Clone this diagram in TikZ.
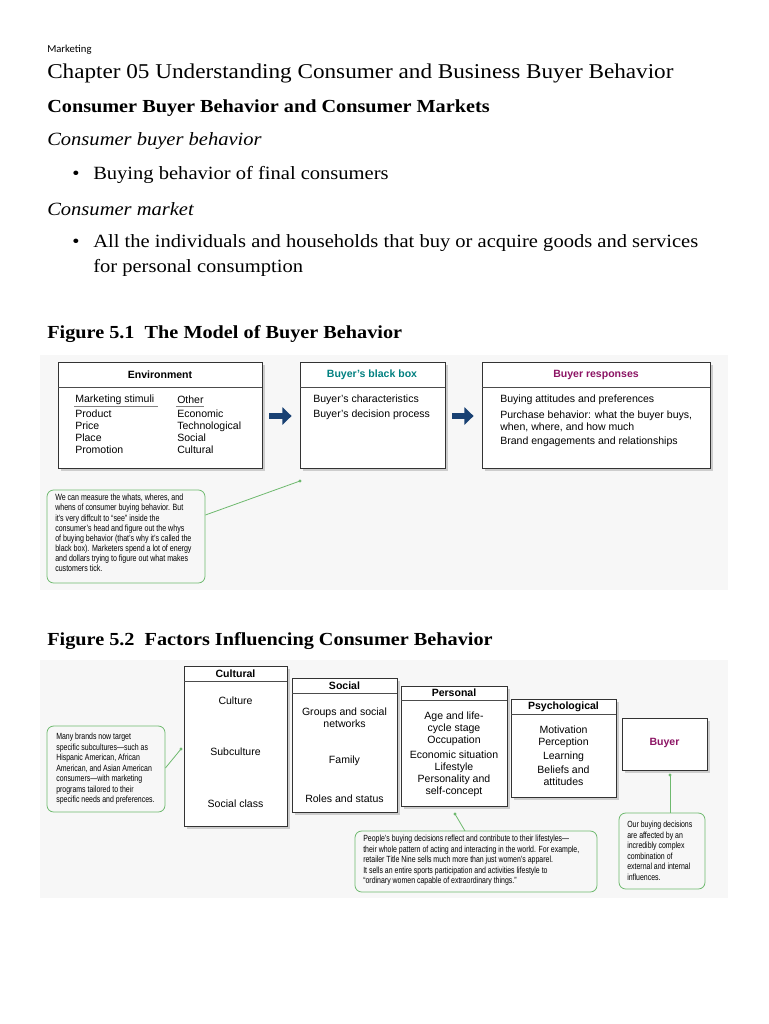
\documentclass[tikz,border=0pt]{standalone}
\usepackage{fontspec}
\setmainfont[FakeStretch=1.1]{Liberation Serif}
\newfontfamily\fig{Liberation Sans}
\newfontfamily\narrow[FakeStretch=0.78]{Liberation Sans}
\newfontfamily\carl{Carlito}
\usetikzlibrary{shadows,fit,arrows.meta}
\definecolor{teal1}{RGB}{0,128,128}
\definecolor{purp}{RGB}{140,20,100}
\definecolor{navy}{RGB}{25,65,115}
\definecolor{gr}{RGB}{110,185,110}
\tikzset{
 box/.style={draw=black!80,line width=0.6pt,fill=white,inner sep=0pt,drop shadow={opacity=0.35,shadow xshift=2pt,shadow yshift=-2pt}},
 note/.style={draw=gr,line width=0.6pt,rounded corners=5pt,inner sep=0pt},
 tl/.style={anchor=west,inner sep=0pt,font=\fig\fontsize{7.9}{9}\selectfont},
 tc/.style={inner sep=0pt,font=\fig\fontsize{7.9}{9}\selectfont,align=center},
 hd/.style={inner sep=0pt,font=\fig\bfseries\fontsize{7.9}{9}\selectfont},
 nt/.style={anchor=north west,inner sep=0pt,align=left},
 lead/.style={draw=gr,line width=0.6pt},
 dot/.style={circle,fill=gr,inner sep=0pt,minimum size=2.5pt},
 barr/.style={draw=navy,line width=5pt,-{Triangle[length=7pt,width=13pt]}},
 pt/.style={anchor=west,inner sep=0pt},
}
\begin{document}
\begin{tikzpicture}[x=0.75pt,y=-0.75pt]
\useasboundingbox (0,0) rectangle (768,1024);
% page text
\node[pt,font=\carl\fontsize{8}{9}\selectfont] (mk) at (47,50) {Marketing};
\node[pt,font=\fontsize{15.8}{18}\selectfont] (t1) at (47,73) {Chapter 05 Understanding Consumer and Business Buyer Behavior};
\node[pt,font=\bfseries\fontsize{13.8}{15}\selectfont] (t2) at (47,108) {Consumer Buyer Behavior and Consumer Markets};
\node[pt,font=\itshape\fontsize{14}{15}\selectfont] (t3) at (47,141) {Consumer buyer behavior};
\node[pt,font=\fontsize{14}{15}\selectfont] (b1) at (72,175) {•};
\node[pt,font=\fontsize{14}{15}\selectfont] (t4) at (93,175) {Buying behavior of final consumers};
\node[pt,font=\itshape\fontsize{14}{15}\selectfont] (t5) at (47,209) {Consumer market};
\node[pt,font=\fontsize{14}{15}\selectfont] (b2) at (72,243) {•};
\node[pt,font=\fontsize{14}{15}\selectfont] (t6) at (93,243) {All the individuals and households that buy or acquire goods and services};
\node[pt,font=\fontsize{14}{15}\selectfont] (t7) at (93,268) {for personal consumption};
\node[pt,font=\bfseries\fontsize{13.8}{15}\selectfont] (f1) at (47,334) {Figure 5.1\ \ The Model of Buyer Behavior};
\node[pt,font=\bfseries\fontsize{13.8}{15}\selectfont] (f2) at (47,641) {Figure 5.2\ \ Factors Influencing Consumer Behavior};
% background tint
\fill[black!3] (40,355) rectangle (728,590);
\fill[black!3] (40,660) rectangle (728,898);
% Figure 5.1
\node[box,fit={(58,362)(262,468)}] (env) {};
\node[box,fit={(300,362)(445,468)}] (bb) {};
\node[box,fit={(482,362)(710,468)}] (resp) {};
\draw[black!70,line width=0.5pt] (58,387) -- (262,387) (300,387) -- (445,387) (482,387) -- (710,387);
\node[hd] (h1) at (160,375) {Environment};
\node[hd,text=teal1] (h2) at (372,375) {Buyer’s black box};
\node[hd,text=purp] (h3) at (596,375) {Buyer responses};
\node[tl] (ms) at (75,400) {Marketing stimuli};
\draw[black!50,line width=0.5pt] (74,406) -- (158,406);
\node[tl] (ot) at (177,400) {Other};
\draw[black!50,line width=0.5pt] (176,406) -- (204,406);
\node[tl,align=left] (mlist) at (75,432) {Product\\Price\\Place\\Promotion};
\node[tl,align=left] (olist) at (177,432) {Economic\\Technological\\Social\\Cultural};
\node[tl] (bc) at (313,400) {Buyer’s characteristics};
\node[tl] (bd) at (313,415) {Buyer’s decision process};
\node[tl] (r1) at (500,400) {Buying attitudes and preferences};
\node[tl,align=left] (r2) at (500,421) {Purchase behavior: what the buyer buys,\\when, where, and how much};
\node[tl] (r3) at (500,442) {Brand engagements and relationships};
\draw[barr,shorten <=5pt,shorten >=6pt] (env.east|-0,416) -- (bb.west|-0,416);
\draw[barr,shorten <=5pt,shorten >=6pt] (bb.east|-0,416) -- (resp.west|-0,416);
\node[note,fit={(47,490)(205,583)}] (n1) {};
\node[nt,font=\narrow\fontsize{6.8}{7.6}\selectfont] (n1t) at (55,494) {We can measure the whats, wheres, and\\whens of consumer buying behavior. But\\it’s very diffcult to “see” inside the\\consumer’s head and figure out the whys\\of buying behavior (that’s why it’s called the\\black box). Marketers spend a lot of energy\\and dollars trying to figure out what makes\\customers tick.};
\coordinate (d1) at (300,481);
\draw[lead] (n1.east|-0,515) -- (d1);
\node[dot] at (d1) {};
% Figure 5.2
\node[box,fit={(184,666)(287,826)}] (cul) {};
\node[box,fit={(292,678)(397,812)}] (soc) {};
\node[box,fit={(401,686)(507,806)}] (per) {};
\node[box,fit={(511,699)(616,797)}] (psy) {};
\node[box,fit={(622,718)(707,770)}] (buy) {};
\draw[black!70,line width=0.5pt] (184,681) -- (287,681) (292,693) -- (397,693) (401,700) -- (507,700) (511,714) -- (616,714);
\node[hd] at (235.5,674) {Cultural};
\node[hd] at (344.5,686) {Social};
\node[hd] at (454,693) {Personal};
\node[hd] at (563.5,707) {Psychological};
\node[hd,text=purp] at (664.5,743) {Buyer};
\node[tc] at (235.5,701) {Culture};
\node[tc] at (235.5,752) {Subculture};
\node[tc] at (235.5,804) {Social class};
\node[tc] at (344.5,717.5) {Groups and social\\networks};
\node[tc] at (344.5,761) {Family};
\node[tc] at (344.5,799) {Roles and status};
\node[tc] at (454,722.5) {Age and life-\\cycle stage};
\node[tc] at (454,741) {Occupation};
\node[tc] at (454,755) {Economic situation};
\node[tc] at (454,768) {Lifestyle};
\node[tc] at (454,786) {Personality and\\self-concept};
\node[tc] at (563.5,730) {Motivation};
\node[tc] at (563.5,743) {Perception};
\node[tc] at (563.5,757) {Learning};
\node[tc] at (563.5,775.5) {Beliefs and\\attitudes};
\node[note,fit={(47,726)(165,812)}] (n2) {};
\node[nt,font=\narrow\fontsize{6.7}{7.9}\selectfont] at (56,733) {Many brands now target\\specific subcultures—such as\\Hispanic American, African\\American, and Asian American\\consumers—with marketing\\programs tailored to their\\specific needs and preferences.};
\coordinate (d2) at (181,749);
\draw[lead] (n2.east|-0,768) -- (d2);
\node[dot] at (d2) {};
\node[note,fit={(355,831)(597,892)}] (n3) {};
\node[nt,font=\narrow\fontsize{6.7}{7.9}\selectfont] at (363,835) {People’s buying decisions reflect and contribute to their lifestyles—\\their whole pattern of acting and interacting in the world. For example,\\retailer Title Nine sells much more than just women’s apparel.\\It sells an entire sports participation and activities lifestyle to\\“ordinary women capable of extraordinary things.”};
\coordinate (d3) at (455,814);
\draw[lead] (465,831) -- (d3);
\node[dot] at (d3) {};
\node[note,fit={(619,813)(705,889)}] (n4) {};
\node[nt,font=\narrow\fontsize{6.7}{7.9}\selectfont] at (627,821) {Our buying decisions\\are affected by an\\incredibly complex\\combination of\\external and internal\\influences.};
\coordinate (d4) at (670,775);
\draw[lead] (n4.north-|d4) -- (d4);
\node[dot] at (d4) {};
\end{tikzpicture}
\end{document}
